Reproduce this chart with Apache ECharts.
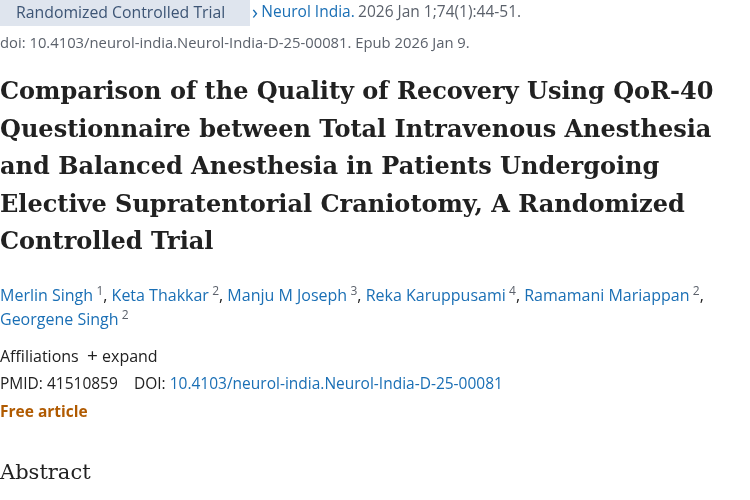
<!DOCTYPE html>
<html>
<head>
<meta charset="utf-8">
<script src="https://cdn.jsdelivr.net/npm/echarts@6/dist/echarts.min.js"></script>
<style>html,body{margin:0;padding:0;background:#fff}#main{width:750px;height:500px}</style>
</head>
<body>
<div id="main"></div>
<script>
// page content
var badgeText = 'Randomized Controlled Trial';
var journal = 'Neurol India.';
var citation = '2026 Jan 1;74(1):44-51.';
var doiLine = 'doi: 10.4103/neurol-india.Neurol-India-D-25-00081. Epub 2026 Jan 9.';
var titleLines = [
  'Comparison of the Quality of Recovery Using QoR-40',
  'Questionnaire between Total Intravenous Anesthesia',
  'and Balanced Anesthesia in Patients Undergoing',
  'Elective Supratentorial Craniotomy, A Randomized',
  'Controlled Trial'
];
var authorsLine1 = [['Merlin Singh', '1'], ['Keta Thakkar', '2'], ['Manju M Joseph', '3'], ['Reka Karuppusami', '4'], ['Ramamani Mariappan', '2']];
var authorsLine2 = [['Georgene Singh', '2']];
var pmid = '41510859';
var doi = '10.4103/neurol-india.Neurol-India-D-25-00081';

var sans = 'Open Sans';
var serif = 'DejaVu Serif';
var blue = '#1a6fb5';
var gray = '#5b616b';

function authorText(list, last) {
  var parts = [];
  for (var i = 0; i < list.length; i++) {
    parts.push('{a|' + list[i][0] + '} {s|' + list[i][1] + '}' + (i < list.length - 1 || !last ? '{c|, }' : ''));
  }
  return parts.join('');
}
var authorRich = {
  a: { fontFamily: sans, fontSize: 16, fill: blue },
  s: { fontFamily: sans, fontSize: 12, fill: gray, verticalAlign: 'top', padding: [0, 0, 8, 0] },
  c: { fontFamily: sans, fontSize: 16, fill: '#212121' }
};

var elements = [
  { type: 'rect', shape: { x: 0, y: 0, width: 250, height: 26 }, style: { fill: '#dfe5ee' } },
  { type: 'text', x: 16, y: 13, style: { text: badgeText, fontFamily: sans, fontSize: 15.8, fill: '#3d5575', verticalAlign: 'middle' } },
  { type: 'text', x: 252, y: 13, style: { text: '{g|›} {j|' + journal + '} {c|' + citation + '}', verticalAlign: 'middle',
      rich: { g: { fontSize: 20, fill: blue, fontFamily: sans }, j: { fontSize: 15.5, fill: blue, fontFamily: sans }, c: { fontSize: 15.5, fill: gray, fontFamily: sans } } } },
  { type: 'text', x: 0, y: 44, style: { text: doiLine, fontFamily: sans, fontSize: 14.8, fill: gray, verticalAlign: 'middle' } }
];
titleLines.forEach(function (t, i) {
  elements.push({ type: 'text', x: 0, y: 93 + i * 37.5, style: { text: t, fontFamily: serif, fontWeight: 'bold', fontSize: 24, fill: '#212121', verticalAlign: 'middle' } });
});
elements.push(
  { type: 'text', x: 0, y: 296, style: { text: authorText(authorsLine1, false), rich: authorRich, verticalAlign: 'middle' } },
  { type: 'text', x: 0, y: 320, style: { text: authorText(authorsLine2, true), rich: authorRich, verticalAlign: 'middle' } },
  { type: 'text', x: 0, y: 357, style: { text: 'Affiliations  {p|+} expand', fontFamily: sans, fontSize: 16, fill: '#212121', verticalAlign: 'middle',
      rich: { p: { fontSize: 19, fill: '#212121', fontFamily: sans } } } },
  { type: 'text', x: 0, y: 385, style: { text: 'PMID: ' + pmid + '    DOI: {l|' + doi + '}', fontFamily: sans, fontSize: 15.5, fill: '#212121', verticalAlign: 'middle',
      rich: { l: { fontFamily: sans, fontSize: 15.5, fill: blue } } } },
  { type: 'text', x: 0, y: 413, style: { text: 'Free article', fontFamily: sans, fontSize: 15.5, fontWeight: 'bold', fill: '#b05a00', verticalAlign: 'middle' } },
  { type: 'text', x: 0, y: 474, style: { text: 'Abstract', fontFamily: serif, fontSize: 21, fill: '#212121', verticalAlign: 'middle' } }
);

var myChart = echarts.init(document.getElementById('main'));
myChart.setOption({ backgroundColor: '#fff', graphic: { elements: elements } });
</script>
</body>
</html>
